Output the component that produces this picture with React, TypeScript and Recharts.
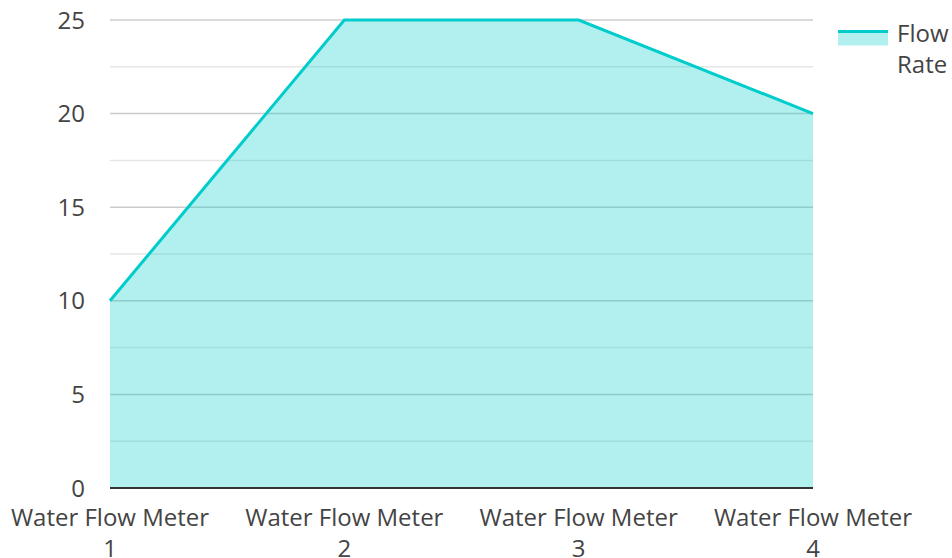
import React from 'react';
import { AreaChart, Area, XAxis, YAxis, CartesianGrid, Legend } from 'recharts';

const meters = ['Water Flow Meter 1', 'Water Flow Meter 2', 'Water Flow Meter 3', 'Water Flow Meter 4'];
const flowRate = [10, 25, 25, 20];
const majorTicks = [0, 5, 10, 15, 20, 25];
const minorTicks = [2.5, 7.5, 12.5, 17.5, 22.5];

const chartData = meters.map((name, i) => ({ name, flowRate: flowRate[i] }));

const FONT = '"Open Sans", "Noto Sans", sans-serif';
const TEAL = '#00CCCC';

// x labels wrap as "Water Flow Meter" / "N"
const MeterTick = ({ x, y, payload }: any) => {
  const words = String(payload.value).split(' ');
  const last = words.pop();
  return (
    <text x={x} y={y} textAnchor="middle" fill="#444" fontSize={24} fontFamily={FONT}>
      <tspan x={x} dy={30}>{words.join(' ')}</tspan>
      <tspan x={x} dy={31}>{last}</tspan>
    </text>
  );
};

const LegendBox = () => (
  <div style={{ display: 'flex', alignItems: 'flex-start', width: 122, fontFamily: FONT }}>
    <svg width={50} height={16} style={{ marginLeft: 25, marginTop: 30, flex: 'none' }}>
      <rect x={0} y={1.5} width={50} height={14} fill={TEAL} fillOpacity={0.3} />
      <line x1={0} x2={50} y1={1.5} y2={1.5} stroke={TEAL} strokeWidth={3} />
    </svg>
    <div style={{ marginLeft: 9, marginTop: 17, fontSize: 24, lineHeight: '31px', color: '#444', width: 56 }}>Flow Rate</div>
  </div>
);

export default function App() {
  return (
    <div style={{ position: 'absolute', left: 0, top: 0 }}>
      <AreaChart width={952} height={558} data={chartData} margin={{ top: 20, right: 17, left: 0, bottom: 0 }}>
        <CartesianGrid vertical={false} horizontalValues={minorTicks} stroke="#e6e6e6" strokeWidth={1.5} />
        <CartesianGrid vertical={false} horizontalValues={majorTicks} stroke="#cccccc" strokeWidth={1.5} />
        <XAxis
          dataKey="name"
          height={70}
          interval={0}
          tick={<MeterTick />}
          tickLine={false}
          axisLine={{ stroke: '#333', strokeWidth: 2 }}
        />
        <YAxis
          width={110}
          domain={[0, 25]}
          ticks={majorTicks}
          tickLine={false}
          axisLine={false}
          tickMargin={19}
          tick={{ fill: '#444', fontSize: 24, fontFamily: FONT }}
        />
        <Legend layout="vertical" align="right" verticalAlign="top" content={<LegendBox />} wrapperStyle={{ top: 0 }} />
        <Area
          type="linear"
          dataKey="flowRate"
          name="Flow Rate"
          stroke={TEAL}
          strokeWidth={3}
          fill={TEAL}
          fillOpacity={0.3}
          isAnimationActive={false}
        />
      </AreaChart>
    </div>
  );
}
